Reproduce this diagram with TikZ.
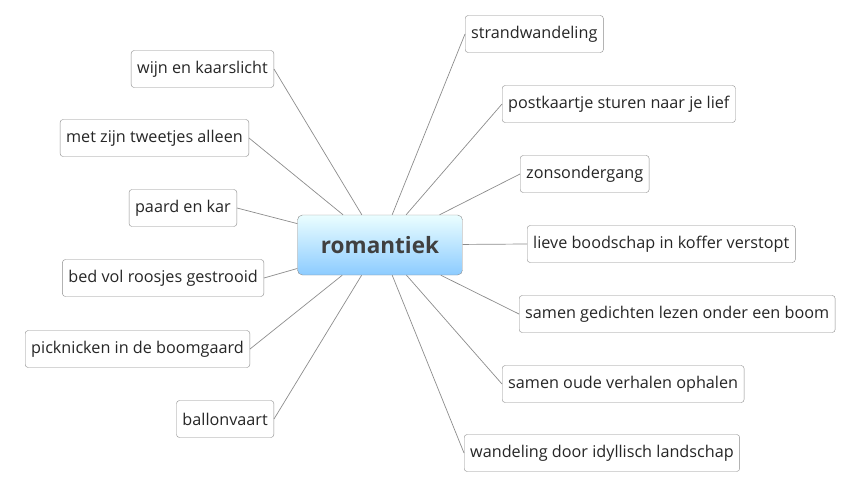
\documentclass[tikz,border=0pt]{standalone}
\usepackage{fontspec}
\setmainfont{Open Sans}
\begin{document}
\begin{tikzpicture}[x=1pt,y=-1pt,
  leaf/.style={draw=black!45,fill=white,rounded corners=3pt,minimum height=37pt,inner xsep=6pt,font=\fontsize{16.2}{18}\selectfont,text=black!85},
  hub/.style={draw=black!45,rounded corners=5pt,minimum width=165pt,minimum height=60pt,top color=blue!5!cyan!8,bottom color=blue!45!cyan!45,font=\fontsize{22.5}{26}\bfseries\selectfont,text=black!75},
  link/.style={draw=black!45,line width=0.7pt}]
\useasboundingbox (0,0) rectangle (862,490);
\node[hub] (c) at (380,245) {romantiek};
\node[leaf,anchor=west] (r1) at (465,34) {strandwandeling};
\node[leaf,anchor=west] (r2) at (502,104) {postkaartje sturen naar je lief};
\node[leaf,anchor=west] (r3) at (520,174) {zonsondergang};
\node[leaf,anchor=west] (r4) at (527,244) {lieve boodschap in koffer verstopt};
\node[leaf,anchor=west] (r5) at (519,314) {samen gedichten lezen onder een boom};
\node[leaf,anchor=west] (r6) at (502,384) {samen oude verhalen ophalen};
\node[leaf,anchor=west] (r7) at (464,453) {wandeling door idyllisch landschap};
\node[leaf,anchor=east] (l1) at (274,69) {wijn en kaarslicht};
\node[leaf,anchor=east] (l2) at (249,138) {met zijn tweetjes alleen};
\node[leaf,anchor=east] (l3) at (237,208) {paard en kar};
\node[leaf,anchor=east] (l4) at (264,278) {bed vol roosjes gestrooid};
\node[leaf,anchor=east] (l5) at (250,349) {picknicken in de boomgaard};
\node[leaf,anchor=east] (l6) at (274,419) {ballonvaart};
\foreach \n in {r1,r2,r3,r4,r5,r6,r7} \draw[link] (c) -- (\n.west);
\foreach \n in {l1,l2,l3,l4,l5,l6} \draw[link] (c) -- (\n.east);
\end{tikzpicture}
\end{document}
